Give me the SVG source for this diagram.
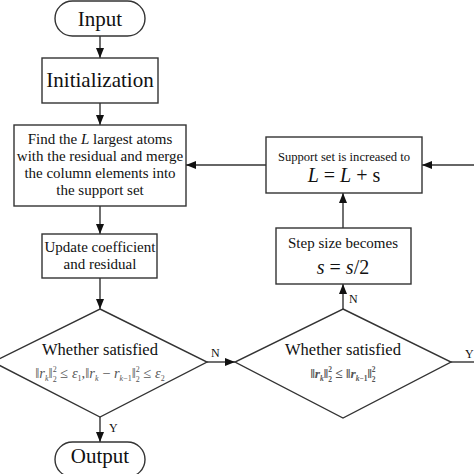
<svg xmlns="http://www.w3.org/2000/svg" width="474" height="474" viewBox="0 0 474 474">
<style>
.n{fill:#fff;stroke:#333;stroke-width:1.4}
.t{font-family:"Liberation Serif","Times New Roman",serif;fill:#111;text-anchor:middle}
.c{stroke:#333;stroke-width:1.4;fill:none}
.m{font-family:"Liberation Serif","DejaVu Serif",serif;fill:#555;text-anchor:middle}
.lbl{font-family:"Liberation Serif",serif;fill:#111;font-size:12px}
</style>
<defs>
<marker id="a" viewBox="0 0 10 8" refX="10" refY="4" markerWidth="10" markerHeight="8" markerUnits="userSpaceOnUse" orient="auto">
<path d="M0,0L10,4L0,8z" fill="#111"/>
</marker>
</defs>
<rect width="474" height="474" fill="#fff"/>
<g id="connectors">
<line class="c" x1="100" y1="36" x2="100" y2="58" marker-end="url(#a)"/>
<line class="c" x1="100" y1="103" x2="100" y2="125" marker-end="url(#a)"/>
<line class="c" x1="100" y1="206" x2="100" y2="234" marker-end="url(#a)"/>
<line class="c" x1="100" y1="278" x2="100" y2="309" marker-end="url(#a)"/>
<line class="c" x1="207" y1="362" x2="235" y2="362" marker-end="url(#a)"/>
<line class="c" x1="100" y1="417" x2="100" y2="442" marker-end="url(#a)"/>
<line class="c" x1="343" y1="309" x2="343" y2="284" marker-end="url(#a)"/>
<line class="c" x1="343" y1="228" x2="343" y2="193" marker-end="url(#a)"/>
<line class="c" x1="266" y1="165" x2="186" y2="165" marker-end="url(#a)"/>
<line class="c" x1="476" y1="165" x2="422" y2="165" marker-end="url(#a)"/>
<line class="c" x1="451" y1="362" x2="476" y2="362"/>
<text class="lbl" x="211" y="357">N</text>
<text class="lbl" x="109" y="432">Y</text>
<text class="lbl" x="349" y="303">N</text>
<text class="lbl" x="465" y="358">Y</text>
</g>
<g id="input">
<rect class="n" x="55" y="1" width="90" height="35" rx="17.5"/>
<text class="t" x="100" y="26" font-size="21">Input</text>
</g>
<g id="init">
<rect class="n" x="42" y="58" width="116" height="45"/>
<text class="t" x="100" y="87" font-size="21">Initialization</text>
</g>
<g id="find">
<rect class="n" x="14" y="125" width="172" height="81"/>
<text class="t" font-size="15"><tspan x="100" y="144">Find the <tspan font-style="italic">L</tspan> largest atoms</tspan><tspan x="100" y="161">with the residual and merge</tspan><tspan x="100" y="178">the column elements into</tspan><tspan x="100" y="195">the support set</tspan></text>
</g>
<g id="update">
<rect class="n" x="42" y="234" width="115" height="44"/>
<text class="t" font-size="15"><tspan x="100" y="252">Update coefficient</tspan><tspan x="100" y="269">and residual</tspan></text>
</g>
<g id="cond1">
<polygon class="n" points="100,309 207,362 100,417 -7,362"/>
<text class="t" x="100" y="355" font-size="16.5">Whether satisfied</text>
<text class="m" x="100" y="378" font-size="14.5">‖<tspan font-style="italic">r</tspan><tspan font-style="italic" font-size="8" dy="3">k</tspan><tspan dy="-3">‖</tspan><tspan font-size="8" dy="-6">2</tspan><tspan font-size="8" dx="-4" dy="10">2</tspan><tspan dy="-4"> ≤ </tspan><tspan font-style="italic">ε</tspan><tspan font-size="8" dy="3">1</tspan><tspan dy="-3">,‖</tspan><tspan font-style="italic">r</tspan><tspan font-style="italic" font-size="8" dy="3">k</tspan><tspan dy="-3"> − </tspan><tspan font-style="italic">r</tspan><tspan font-style="italic" font-size="8" dy="3">k</tspan><tspan font-size="8">−1</tspan><tspan dy="-3">‖</tspan><tspan font-size="8" dy="-6">2</tspan><tspan font-size="8" dx="-4" dy="10">2</tspan><tspan dy="-4"> ≤ </tspan><tspan font-style="italic">ε</tspan><tspan font-size="8" dy="3">2</tspan></text>
</g>
<g id="cond2">
<polygon class="n" points="343,309 451,362 343,418 235,362"/>
<text class="t" x="343" y="355" font-size="16.5">Whether satisfied</text>
<text class="m" x="343" y="378" font-size="13.5" font-weight="bold">‖<tspan font-style="italic">r</tspan><tspan font-style="italic" font-size="7.5" dy="3">k</tspan><tspan dy="-3">‖</tspan><tspan font-size="7.5" dy="-6">2</tspan><tspan font-size="7.5" dx="-3.8" dy="10">2</tspan><tspan dy="-4"> ≤ ‖</tspan><tspan font-style="italic">r</tspan><tspan font-style="italic" font-size="7.5" dy="3">k</tspan><tspan font-size="7.5">−1</tspan><tspan dy="-3">‖</tspan><tspan font-size="7.5" dy="-6">2</tspan><tspan font-size="7.5" dx="-3.8" dy="10">2</tspan></text>
</g>
<g id="step">
<rect class="n" x="276" y="228" width="135" height="56"/>
<text class="t" x="343" y="248" font-size="15">Step size becomes</text>
<text class="t" x="343" y="274" font-size="20"><tspan font-style="italic">s</tspan> = <tspan font-style="italic">s</tspan>/2</text>
</g>
<g id="support">
<rect class="n" x="266" y="137" width="156" height="56"/>
<text class="t" x="344" y="161" font-size="12.6">Support set is increased to</text>
<text class="t" x="344" y="182" font-size="20"><tspan font-style="italic">L</tspan> = <tspan font-style="italic">L</tspan> + s</text>
</g>
<g id="output">
<rect class="n" x="55" y="442" width="90" height="35" rx="17.5"/>
<text class="t" x="100" y="463" font-size="21">Output</text>
</g>
</svg>
